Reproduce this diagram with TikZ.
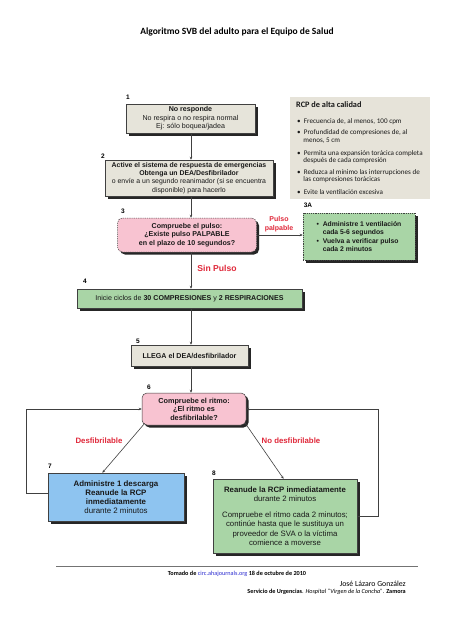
\documentclass[tikz,border=0pt]{standalone}
\usepackage{fontspec}
\setsansfont{Liberation Sans}
\newfontfamily\calfont{Carlito}
\usetikzlibrary{shadows,arrows.meta,calc}
\definecolor{beigebox}{HTML}{E6E4DA}
\definecolor{pinkbox}{HTML}{F8C3D1}
\definecolor{greenbox}{HTML}{A9D5A6}
\definecolor{bluebox}{HTML}{8EC4F0}
\definecolor{rcpbg}{HTML}{E6E3D9}
\definecolor{redlbl}{HTML}{E0283A}
\definecolor{linkblue}{HTML}{2A2AD0}
\begin{document}
\begin{tikzpicture}[x=1pt,y=-1pt,
  box/.style={draw=black!75, line width=0.5pt, align=center, inner sep=1.5pt,
    font=\sffamily\fontsize{7.1}{8.6}\selectfont, text=black!90,
    drop shadow={shadow xshift=2.5pt, shadow yshift=-2.5pt, fill=black!85, opacity=1}},
  num/.style={font=\sffamily\bfseries\fontsize{6.5}{7}\selectfont, inner sep=0pt},
  redlab/.style={font=\sffamily\bfseries\fontsize{7.8}{9}\selectfont, text=redlbl, inner sep=0pt, align=center},
  rcpline/.style={anchor=west, inner sep=0pt, font=\calfont\fontsize{7.1}{8}\selectfont, text=black!90},
  arr/.style={draw=black!75, line width=0.6pt, -{Stealth[length=3pt,width=2.6pt]}}
]
\fill[white] (0,0) rectangle (474,632);
\useasboundingbox (0,0) rectangle (474,632);

% title
\node[font=\calfont\bfseries\fontsize{9.5}{11}\selectfont, inner sep=0pt] (title) at (237,32) {Algoritmo SVB del adulto para el Equipo de Salud};

% RCP box
\fill[rcpbg] (290,97) rectangle (430,199);
\node[rcpline, font=\calfont\bfseries\fontsize{8.3}{9}\selectfont] (r0) at (296,105) {RCP de alta calidad};
\node[rcpline] (r1) at (297,122) {\textbullet\ \ Frecuencia de, al menos, 100 cpm};
\node[rcpline] (r2) at (297,133) {\textbullet\ \ Profundidad de compresiones de, al};
\node[rcpline] (r2b) at (303.2,141) {menos, 5 cm};
\node[rcpline] (r3) at (297,154) {\textbullet\ \ Permita una expansión torácica completa};
\node[rcpline] (r3b) at (303.2,161) {después de cada compresión};
\node[rcpline] (r4) at (297,173) {\textbullet\ \ Reduzca al mínimo las interrupciones de};
\node[rcpline] (r4b) at (303.2,180) {las compresiones torácicas};
\node[rcpline] (r5) at (297,192) {\textbullet\ \ Evite la ventilación excesiva};

% boxes
\node[box, fill=beigebox, minimum width=129pt, minimum height=29pt] (b1) at (190.5,118.5)
{\textbf{No responde}\\No respira o no respira normal\\Ej: sólo boquea/jadea};
\node[box, fill=beigebox, minimum width=168pt, minimum height=36pt, font=\sffamily\fontsize{6.9}{8.4}\selectfont] (b2) at (189,178)
{\textbf{Active el sistema de respuesta de emergencias}\\\textbf{Obtenga un DEA/Desfibrilador}\\o envíe a un segundo reanimador (si se encuentra\\disponible) para hacerlo};
\node[box, fill=pinkbox, rounded corners=5pt, dash pattern=on 1.2pt off 1pt, minimum width=139pt, minimum height=34pt] (b3) at (187,235)
{\textbf{Compruebe el pulso:}\\\textbf{¿Existe pulso PALPABLE}\\\textbf{en el plazo de 10 segundos?}};
\node[box, fill=greenbox, dash pattern=on 1.2pt off 1pt, minimum width=112pt, minimum height=47pt, align=left, font=\sffamily\fontsize{6.8}{8.4}\selectfont] (b3a) at (359,236.5)
{\textbf{\textbullet\ \ Administre 1 ventilación}\\\textbf{\hphantom{\textbullet\ \ }cada 5-6 segundos}\\\textbf{\textbullet\ \ Vuelva a verificar pulso}\\\textbf{\hphantom{\textbullet\ \ }cada 2 minutos}};
\node[box, fill=greenbox, minimum width=225pt, minimum height=19pt, font=\sffamily\fontsize{7.1}{8}\selectfont] (b4) at (189.5,298.5)
{Inicie ciclos de \textbf{30 COMPRESIONES} y \textbf{2 RESPIRACIONES}};
\node[box, fill=beigebox, minimum width=117pt, minimum height=21pt] (b5) at (189.5,355.5)
{\textbf{LLEGA el DEA/desfibrilador}};
\node[box, fill=pinkbox, rounded corners=5pt, minimum width=104pt, minimum height=32pt, font=\sffamily\fontsize{7.3}{8.6}\selectfont] (b6) at (194,409)
{\textbf{Compruebe el ritmo:}\\\textbf{¿El ritmo es}\\\textbf{desfibrilable?}};
\node[box, fill=bluebox, minimum width=136pt, minimum height=48pt, font=\sffamily\fontsize{7.9}{9}\selectfont] (b7) at (116,497)
{\textbf{Administre 1 descarga}\\\textbf{Reanude la RCP}\\\textbf{inmediatamente}\\durante 2 minutos};
\node[box, fill=greenbox, minimum width=144pt, minimum height=74pt, font=\sffamily\fontsize{7.8}{9.5}\selectfont] (b8) at (285,516)
{\textbf{Reanude la RCP inmediatamente}\\durante 2 minutos\\[6pt]Compruebe el ritmo cada 2 minutos;\\continúe hasta que le sustituya un\\proveedor de SVA o la víctima\\comience a moverse};

% numbers
\node[num] (n1) at (128,97) {1};
\node[num] (n2) at (103,156) {2};
\node[num] (n3) at (123,211) {3};
\node[num] (n3a) at (308,205) {3A};
\node[num] (n4) at (85,281) {4};
\node[num] (n5) at (138,341) {5};
\node[num] (n6) at (149,387) {6};
\node[num] (n7) at (50,466) {7};
\node[num] (n8) at (214,473) {8};

% labels
\node[redlab, font=\sffamily\bfseries\fontsize{7}{9}\selectfont] (lpp) at (279,224) {Pulso\\palpable};
\node[redlab, font=\sffamily\bfseries\fontsize{8.6}{10}\selectfont] (lsp) at (217,268) {Sin Pulso};
\node[redlab] (ldf) at (99,441) {Desfibrilable};
\node[redlab] (lnd) at (291,441) {No desfibrilable};

% connectors
\coordinate (sp) at (191,0);
\draw[arr] (b1.south -| sp) -- (b2.north -| sp);
\draw[arr] (b2.south -| sp) -- (b3.north -| sp);
\draw[arr] (b3.south -| sp) -- (b4.north -| sp);
\draw[arr] (b4.south -| sp) -- (b5.north -| sp);
\draw[arr] (b5.south -| sp) -- (b6.north -| sp);
\draw[arr] (b3.east) -- (b3.east -| b3a.west);
\draw[arr] ($(b6.south west)+(3,-2)$) -- ($(b7.north west)!0.4!(b7.north east)$);
\draw[arr] ($(b6.south east)+(-1,-2)$) -- ($(b8.north west)!0.49!(b8.north east)$);
\draw[arr] ($(b7.west)+(0,-4)$) -- ++(-21,0) |- (b6.west);
\draw[arr] (b8.east) -- ++(21,0) |- (b6.east);

% footer
\draw[black!55, line width=0.7pt] (56,566) -- (418,566);
\node[font=\calfont\fontsize{6.2}{7}\selectfont, inner sep=0pt] (src) at (237,574)
{\textbf{Tomado de} \textcolor{linkblue}{circ.ahajournals.org} \textbf{18 de octubre de 2010}};
\node[font=\calfont\fontsize{7.8}{9}\selectfont, anchor=east, inner sep=0pt] (auth) at (406,584) {José Lázaro González};
\node[font=\calfont\fontsize{6.2}{7}\selectfont, anchor=east, inner sep=0pt] (serv) at (406,592)
{\textbf{Servicio de Urgencias}. \textit{Hospital “Virgen de la Concha”}. \textbf{Zamora}};
\end{tikzpicture}
\end{document}
